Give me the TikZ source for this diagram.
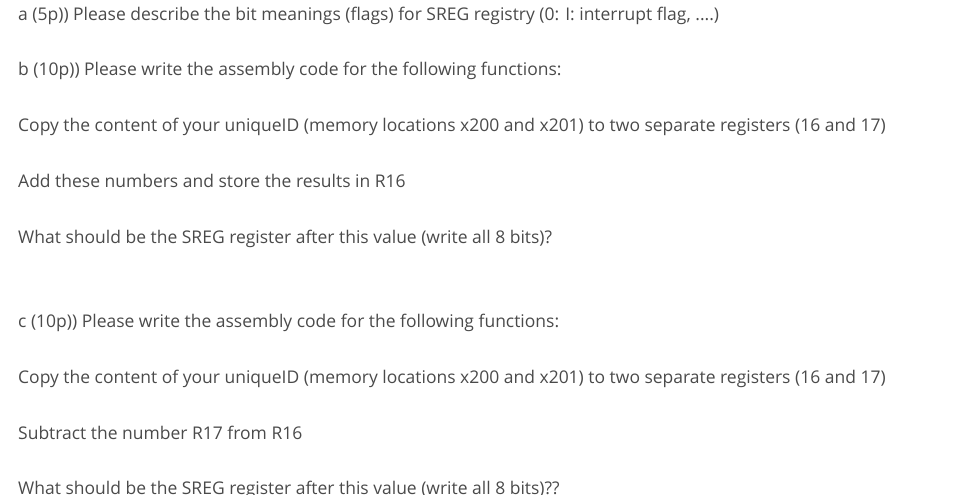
\documentclass[tikz,border=0pt]{standalone}
\usepackage{fontspec}
\setmainfont{Open Sans}
\definecolor{txt}{HTML}{4A4A4A}
\begin{document}
\begin{tikzpicture}[x=1pt,y=-1pt,
  line/.style={anchor=base west,inner sep=0pt,text=txt,font=\fontsize{17.48}{20}\selectfont}]
\useasboundingbox (0,0) rectangle (956,495);
\node[line] (l1) at (18,21) {a (5p)) Please describe the bit meanings (flags) for SREG registry (0: I: interrupt flag, ....)};
\node[line] (l2) at (18,75) {b (10p)) Please write the assembly code for the following functions:};
\node[line] (l3) at (18,131) {Copy the content of your uniqueID (memory locations x200 and x201) to two separate registers (16 and 17)};
\node[line] (l4) at (18,187) {Add these numbers and store the results in R16};
\node[line] (l5) at (18,243) {What should be the SREG register after this value (write all 8 bits)?};
\node[line] (l6) at (18,327) {c (10p)) Please write the assembly code for the following functions:};
\node[line] (l7) at (18,383) {Copy the content of your uniqueID (memory locations x200 and x201) to two separate registers (16 and 17)};
\node[line] (l8) at (18,439) {Subtract the number R17 from R16};
\node[line] (l9) at (18,494) {What should be the SREG register after this value (write all 8 bits)??};
\end{tikzpicture}
\end{document}
